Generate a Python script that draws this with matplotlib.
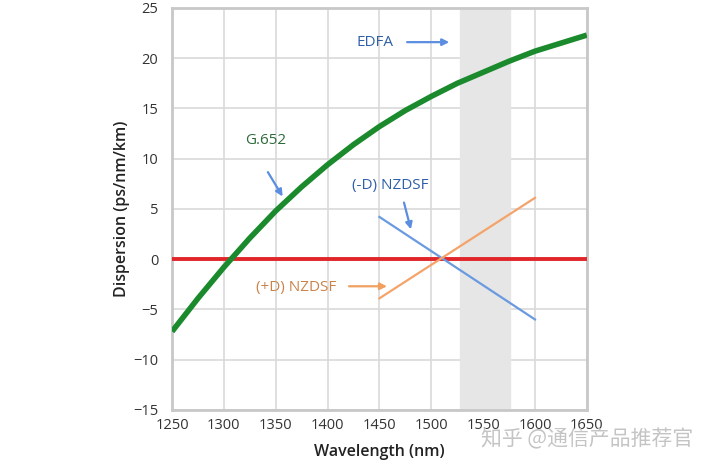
import matplotlib.pyplot as plt

plt.rcParams['font.family'] = ['Open Sans', 'Noto Sans CJK SC', 'DejaVu Sans']

# G.652 standard fibre dispersion
g652_wl = [1250, 1275, 1300, 1325, 1350, 1375, 1400, 1425, 1450, 1475, 1500,
           1525, 1550, 1575, 1600, 1625, 1650]
g652_d = [-7.2, -3.9, -0.8, 2.1, 4.8, 7.2, 9.4, 11.4, 13.2, 14.8, 16.2,
          17.5, 18.6, 19.7, 20.7, 21.5, 22.3]

# NZDSF lines
neg_wl = [1450, 1600]
neg_d = [4.2, -6.0]
pos_wl = [1450, 1600]
pos_d = [-3.9, 6.1]

# dispersion-shifted (zero) line and EDFA band
zero_wl = [1250, 1650]
zero_d = [0, 0]
edfa_band = [1528, 1576]

x_ticks = [1250, 1300, 1350, 1400, 1450, 1500, 1550, 1600, 1650]
y_ticks = [-15, -10, -5, 0, 5, 10, 15, 20, 25]

fig = plt.figure(figsize=(7.2, 4.7), dpi=100)
ax = fig.add_axes([0.239, 0.128, 0.576, 0.855])

ax.axvspan(edfa_band[0], edfa_band[1], color='#e6e6e6', zorder=1)
ax.plot(zero_wl, zero_d, color='#e0262a', lw=2.8, zorder=3, solid_capstyle='butt')
ax.plot(g652_wl, g652_d, color='#1a8a2c', lw=4, zorder=4,
        solid_capstyle='butt', solid_joinstyle='round')
ax.plot(neg_wl, neg_d, color='#6a9ae0', lw=1.6, zorder=4)
ax.plot(pos_wl, pos_d, color='#f4a46a', lw=1.6, zorder=4)

ax.set_xlim(1250, 1650)
ax.set_ylim(-15, 25)
ax.set_xticks(x_ticks)
ax.set_yticks(y_ticks)
ax.grid(True, color='#d9d9d9', lw=1.2, zorder=0)
ax.set_axisbelow(True)
ax.tick_params(length=0, labelsize=10.5, colors='#333333')
ax.tick_params(axis='x', pad=6)
ax.tick_params(axis='y', pad=10)
for s in ax.spines.values():
    s.set_color('#c8c8c8')
    s.set_linewidth(2)

ax.set_xlabel('Wavelength (nm)', fontsize=11.5, fontweight='semibold', color='#222222', labelpad=8)
ax.set_ylabel('Dispersion (ps/nm/km)', fontsize=11.5, fontweight='semibold', color='#222222', labelpad=2)

blue_txt = '#2f5fa8'
blue_arr = '#5b8ee0'
orange_txt = '#c9834a'
orange_arr = '#f0a060'

# EDFA
ax.text(1446, 21.6, 'EDFA', color=blue_txt, fontsize=11, ha='center', va='center')
ax.annotate('', xy=(1520, 21.6), xytext=(1474, 21.6),
            arrowprops=dict(arrowstyle='-|>', color=blue_arr, lw=1.6, mutation_scale=10))

# G.652
ax.text(1340, 11.8, 'G.652', color='#2e6b3a', fontsize=11, ha='center', va='center')
ax.annotate('', xy=(1358, 6.0), xytext=(1341, 8.9),
            arrowprops=dict(arrowstyle='-|>', color=blue_arr, lw=1.6, mutation_scale=10))

# (-D) NZDSF
ax.text(1460, 7.3, '(-D) NZDSF', color=blue_txt, fontsize=11, ha='center', va='center')
ax.annotate('', xy=(1481, 2.7), xytext=(1473, 5.9),
            arrowprops=dict(arrowstyle='-|>', color=blue_arr, lw=1.6, mutation_scale=10))

# (+D) NZDSF
ax.text(1370, -2.8, '(+D) NZDSF', color=orange_txt, fontsize=11, ha='center', va='center')
ax.annotate('', xy=(1460, -2.7), xytext=(1418, -2.7),
            arrowprops=dict(arrowstyle='-|>', color=orange_arr, lw=1.6, mutation_scale=10))

fig.text(0.668, 0.066, '知乎 @通信产品推荐官', color='#c4c4c4', fontsize=15,
         ha='left', va='center', family=['Noto Sans CJK SC', 'DejaVu Sans'])

fig.savefig('out.png', dpi=100)
